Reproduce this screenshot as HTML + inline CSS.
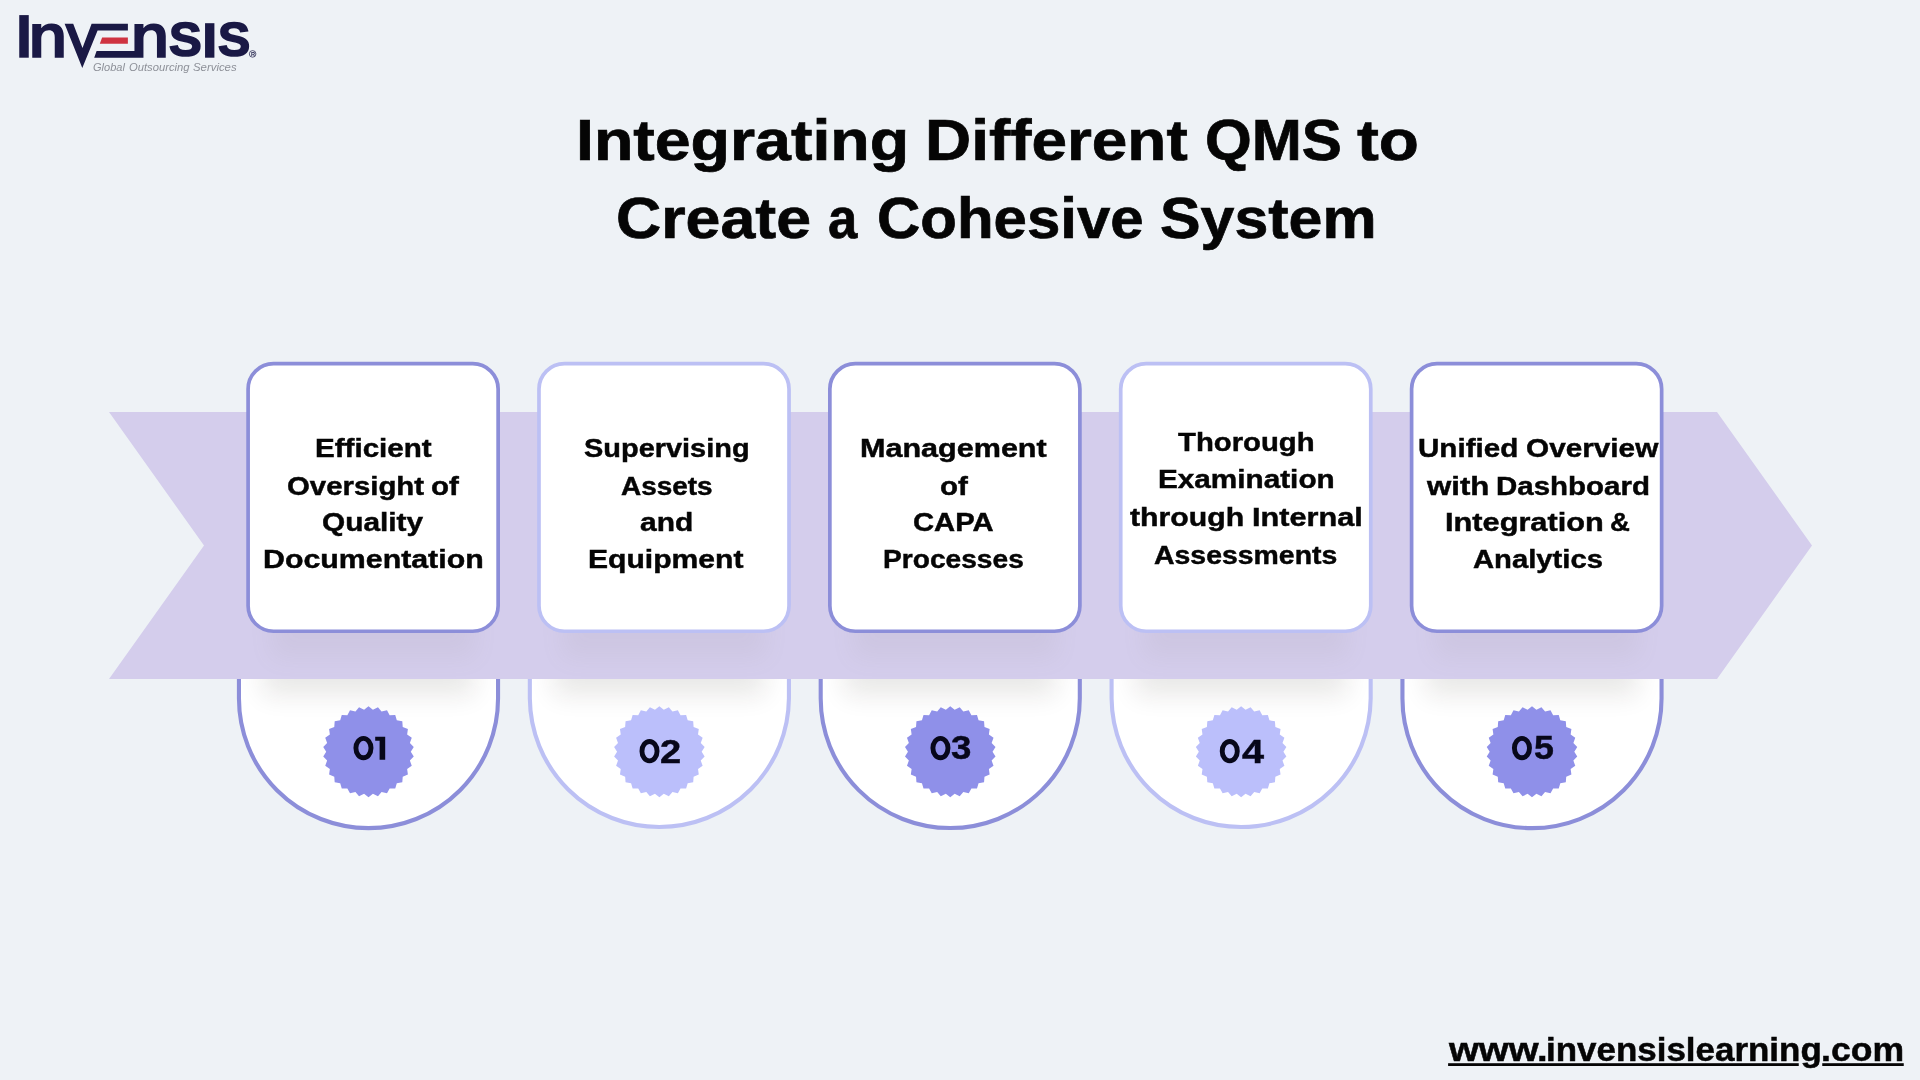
<!DOCTYPE html>
<html><head><meta charset="utf-8"><title>Integrating Different QMS</title>
<style>
html,body{margin:0;padding:0}
body{width:1920px;height:1080px;background:#eef2f6;position:relative;overflow:hidden;font-family:"Liberation Sans",sans-serif}
.abs{position:absolute}
#txt{position:absolute;left:0;top:0;width:1920px;height:1080px;will-change:transform}.t{position:absolute;white-space:nowrap;line-height:1;font-weight:bold;color:#050505;transform-origin:0 0;font-family:"Liberation Sans",sans-serif}
</style></head><body>
<svg class="abs" style="left:0;top:0" width="300" height="90" viewBox="0 0 300 90">
<g fill="#1a1945">
<rect x="19.25" y="15.1" width="9.5" height="42.6"/>
<path id="n1" d="M32.25,57.7 V23.9 H41.25 V28.3 C43.2,25.3 46.8,23.5 51.6,23.5 C59.4,23.5 63.75,28 63.75,36 V57.7 H54.75 V37.2 C54.75,32.6 52.8,30.25 48.9,30.25 C44.4,30.25 41.25,33.6 41.25,39 V57.7 Z"/>
<polygon points="64.6,23.7 73.2,23.7 82.5,48 91.6,23.7 127.9,23.7 127.9,30.5 97.6,30.5 82.3,68.1"/>
<path d="M94.2,57.7 L96.6,51.1 H134.45 V23.9 H143.45 V28.3 C145.4,25.3 149,23.5 153.8,23.5 C161.6,23.5 165.75,28 165.75,36 V57.7 H156.95 V37.2 C156.95,32.6 155,30.25 151.1,30.25 C146.6,30.25 143.45,33.6 143.45,39 V57.7 Z"/>
<rect x="205.05" y="23.2" width="9.35" height="34.5"/>
</g>
<polygon points="102.1,37.4 127.9,37.4 127.9,43.8 99.8,43.8" fill="#cf3341"/>
<circle cx="252.6" cy="53.9" r="3.3" fill="none" stroke="#1a1945" stroke-width="0.7"/>
</svg>

<svg class="abs" style="left:0;top:0" width="1920" height="1080"><defs><filter id="b1" x="-30%" y="-100%" width="160%" height="300%"><feGaussianBlur stdDeviation="12.6"/></filter><filter id="b2" x="-30%" y="-100%" width="160%" height="300%"><feGaussianBlur stdDeviation="12"/></filter><clipPath id="sc0"><path d="M238.95,600 V698.6 A129.55,129.55 0 0 0 498.05,698.6 V600 Z"/></clipPath><clipPath id="sc1"><path d="M529.83,600 V698.6 A129.55,129.55 0 0 0 788.92,698.6 V600 Z"/></clipPath><clipPath id="sc2"><path d="M820.70,600 V698.6 A129.55,129.55 0 0 0 1079.80,698.6 V600 Z"/></clipPath><clipPath id="sc3"><path d="M1111.58,600 V698.6 A129.55,129.55 0 0 0 1370.67,698.6 V600 Z"/></clipPath><clipPath id="sc4"><path d="M1402.45,600 V698.6 A129.55,129.55 0 0 0 1661.55,698.6 V600 Z"/></clipPath></defs><path d="M238.95,600 V698.6 A129.55,129.55 0 0 0 498.05,698.6 V600" fill="#fff" stroke="none"/><g clip-path="url(#sc0)"><rect x="263.00" y="630" width="211" height="65" fill="#2a2618" opacity="0.10" filter="url(#b1)"/></g><path d="M238.95,600 V698.6 A129.55,129.55 0 0 0 498.05,698.6 V600" fill="none" stroke="#8c8ed9" stroke-width="4.1"/><path d="M529.83,600 V698.6 A129.55,129.55 0 0 0 788.92,698.6 V600" fill="#fff" stroke="none"/><g clip-path="url(#sc1)"><rect x="553.88" y="630" width="211" height="65" fill="#2a2618" opacity="0.10" filter="url(#b1)"/></g><path d="M529.83,600 V698.6 A129.55,129.55 0 0 0 788.92,698.6 V600" fill="none" stroke="#bcc0f4" stroke-width="4.1"/><path d="M820.70,600 V698.6 A129.55,129.55 0 0 0 1079.80,698.6 V600" fill="#fff" stroke="none"/><g clip-path="url(#sc2)"><rect x="844.75" y="630" width="211" height="65" fill="#2a2618" opacity="0.10" filter="url(#b1)"/></g><path d="M820.70,600 V698.6 A129.55,129.55 0 0 0 1079.80,698.6 V600" fill="none" stroke="#8c8ed9" stroke-width="4.1"/><path d="M1111.58,600 V698.6 A129.55,129.55 0 0 0 1370.67,698.6 V600" fill="#fff" stroke="none"/><g clip-path="url(#sc3)"><rect x="1135.62" y="630" width="211" height="65" fill="#2a2618" opacity="0.10" filter="url(#b1)"/></g><path d="M1111.58,600 V698.6 A129.55,129.55 0 0 0 1370.67,698.6 V600" fill="none" stroke="#bcc0f4" stroke-width="4.1"/><path d="M1402.45,600 V698.6 A129.55,129.55 0 0 0 1661.55,698.6 V600" fill="#fff" stroke="none"/><g clip-path="url(#sc4)"><rect x="1426.50" y="630" width="211" height="65" fill="#2a2618" opacity="0.10" filter="url(#b1)"/></g><path d="M1402.45,600 V698.6 A129.55,129.55 0 0 0 1661.55,698.6 V600" fill="none" stroke="#8c8ed9" stroke-width="4.1"/><polygon points="109,412 1717,412 1812,545.5 1717,679 109,679 204,545.5" fill="#d4cdec"/><rect x="271.25" y="590" width="204" height="68" fill="#787064" opacity="0.07" filter="url(#b2)"/><rect x="562.12" y="590" width="204" height="68" fill="#787064" opacity="0.07" filter="url(#b2)"/><rect x="853.00" y="590" width="204" height="68" fill="#787064" opacity="0.07" filter="url(#b2)"/><rect x="1143.88" y="590" width="204" height="68" fill="#787064" opacity="0.07" filter="url(#b2)"/><rect x="1434.75" y="590" width="204" height="68" fill="#787064" opacity="0.07" filter="url(#b2)"/></svg>
<svg class="abs" style="left:0;top:0" width="1920" height="1080"><rect x="248.10" y="363.65" width="250.05" height="267.60" rx="25.45" fill="#fff" stroke="#8c8ed9" stroke-width="3.7"/><rect x="538.98" y="363.65" width="250.05" height="267.60" rx="25.45" fill="#fff" stroke="#bcc0f4" stroke-width="3.7"/><rect x="829.85" y="363.65" width="250.05" height="267.60" rx="25.45" fill="#fff" stroke="#8c8ed9" stroke-width="3.7"/><rect x="1120.72" y="363.65" width="250.05" height="267.60" rx="25.45" fill="#fff" stroke="#bcc0f4" stroke-width="3.7"/><rect x="1411.60" y="363.65" width="250.05" height="267.60" rx="25.45" fill="#fff" stroke="#8c8ed9" stroke-width="3.7"/></svg>
<svg class="abs" style="left:0;top:0" width="1920" height="1080"><polygon points="368.50,706.30 364.08,709.73 359.04,707.29 355.43,711.57 349.99,710.23 347.35,715.17 341.76,714.99 340.20,720.36 334.69,721.35 334.28,726.94 329.10,729.05 329.86,734.60 325.23,737.74 327.12,743.01 323.25,747.04 326.20,751.80 323.25,756.56 327.12,760.59 325.23,765.86 329.86,769.00 329.10,774.55 334.28,776.66 334.69,782.25 340.20,783.24 341.76,788.61 347.35,788.43 349.99,793.37 355.43,792.03 359.04,796.31 364.08,793.87 368.50,797.30 372.92,793.87 377.96,796.31 381.57,792.03 387.01,793.37 389.65,788.43 395.24,788.61 396.80,783.24 402.31,782.25 402.72,776.66 407.90,774.55 407.14,769.00 411.77,765.86 409.88,760.59 413.75,756.56 410.80,751.80 413.75,747.04 409.88,743.01 411.77,737.74 407.14,734.60 407.90,729.05 402.72,726.94 402.31,721.35 396.80,720.36 395.24,714.99 389.65,715.17 387.01,710.23 381.57,711.57 377.96,707.29 372.92,709.73" fill="#8f90e9"/><polygon points="659.38,706.30 654.95,709.73 649.92,707.29 646.30,711.57 640.87,710.23 638.23,715.17 632.63,714.99 631.07,720.36 625.56,721.35 625.15,726.94 619.97,729.05 620.73,734.60 616.10,737.74 618.00,743.01 614.12,747.04 617.08,751.80 614.12,756.56 618.00,760.59 616.10,765.86 620.73,769.00 619.97,774.55 625.15,776.66 625.56,782.25 631.07,783.24 632.63,788.61 638.23,788.43 640.87,793.37 646.30,792.03 649.92,796.31 654.95,793.87 659.38,797.30 663.80,793.87 668.83,796.31 672.45,792.03 677.88,793.37 680.52,788.43 686.12,788.61 687.68,783.24 693.19,782.25 693.60,776.66 698.78,774.55 698.02,769.00 702.65,765.86 700.75,760.59 704.63,756.56 701.67,751.80 704.63,747.04 700.75,743.01 702.65,737.74 698.02,734.60 698.78,729.05 693.60,726.94 693.19,721.35 687.68,720.36 686.12,714.99 680.52,715.17 677.88,710.23 672.45,711.57 668.83,707.29 663.80,709.73" fill="#bbbffb"/><polygon points="950.25,706.30 945.83,709.73 940.79,707.29 937.18,711.57 931.74,710.23 929.10,715.17 923.51,714.99 921.95,720.36 916.44,721.35 916.03,726.94 910.85,729.05 911.61,734.60 906.98,737.74 908.87,743.01 905.00,747.04 907.95,751.80 905.00,756.56 908.87,760.59 906.98,765.86 911.61,769.00 910.85,774.55 916.03,776.66 916.44,782.25 921.95,783.24 923.51,788.61 929.10,788.43 931.74,793.37 937.18,792.03 940.79,796.31 945.83,793.87 950.25,797.30 954.67,793.87 959.71,796.31 963.32,792.03 968.76,793.37 971.40,788.43 976.99,788.61 978.55,783.24 984.06,782.25 984.47,776.66 989.65,774.55 988.89,769.00 993.52,765.86 991.63,760.59 995.50,756.56 992.55,751.80 995.50,747.04 991.63,743.01 993.52,737.74 988.89,734.60 989.65,729.05 984.47,726.94 984.06,721.35 978.55,720.36 976.99,714.99 971.40,715.17 968.76,710.23 963.32,711.57 959.71,707.29 954.67,709.73" fill="#8f90e9"/><polygon points="1241.12,706.30 1236.70,709.73 1231.67,707.29 1228.05,711.57 1222.62,710.23 1219.97,715.17 1214.38,714.99 1212.82,720.36 1207.31,721.35 1206.90,726.94 1201.72,729.05 1202.48,734.60 1197.85,737.74 1199.75,743.01 1195.87,747.04 1198.83,751.80 1195.87,756.56 1199.75,760.59 1197.85,765.86 1202.48,769.00 1201.72,774.55 1206.90,776.66 1207.31,782.25 1212.82,783.24 1214.38,788.61 1219.97,788.43 1222.62,793.37 1228.05,792.03 1231.67,796.31 1236.70,793.87 1241.12,797.30 1245.55,793.87 1250.58,796.31 1254.20,792.03 1259.63,793.37 1262.27,788.43 1267.87,788.61 1269.43,783.24 1274.94,782.25 1275.35,776.66 1280.53,774.55 1279.77,769.00 1284.40,765.86 1282.50,760.59 1286.38,756.56 1283.42,751.80 1286.38,747.04 1282.50,743.01 1284.40,737.74 1279.77,734.60 1280.53,729.05 1275.35,726.94 1274.94,721.35 1269.43,720.36 1267.87,714.99 1262.28,715.17 1259.63,710.23 1254.20,711.57 1250.58,707.29 1245.55,709.73" fill="#bbbffb"/><polygon points="1532.00,706.30 1527.58,709.73 1522.54,707.29 1518.93,711.57 1513.49,710.23 1510.85,715.17 1505.26,714.99 1503.70,720.36 1498.19,721.35 1497.78,726.94 1492.60,729.05 1493.36,734.60 1488.73,737.74 1490.62,743.01 1486.75,747.04 1489.70,751.80 1486.75,756.56 1490.62,760.59 1488.73,765.86 1493.36,769.00 1492.60,774.55 1497.78,776.66 1498.19,782.25 1503.70,783.24 1505.26,788.61 1510.85,788.43 1513.49,793.37 1518.93,792.03 1522.54,796.31 1527.58,793.87 1532.00,797.30 1536.42,793.87 1541.46,796.31 1545.07,792.03 1550.51,793.37 1553.15,788.43 1558.74,788.61 1560.30,783.24 1565.81,782.25 1566.22,776.66 1571.40,774.55 1570.64,769.00 1575.27,765.86 1573.38,760.59 1577.25,756.56 1574.30,751.80 1577.25,747.04 1573.38,743.01 1575.27,737.74 1570.64,734.60 1571.40,729.05 1566.22,726.94 1565.81,721.35 1560.30,720.36 1558.74,714.99 1553.15,715.17 1550.51,710.23 1545.07,711.57 1541.46,707.29 1536.42,709.73" fill="#8f90e9"/><ellipse cx="363.45" cy="748.1" rx="7.55" ry="9.7" fill="none" stroke="#07071a" stroke-width="4.9"/><ellipse cx="649.5" cy="751.2" rx="7.55" ry="9.7" fill="none" stroke="#07071a" stroke-width="4.9"/><ellipse cx="940.45" cy="748.1" rx="7.55" ry="9.7" fill="none" stroke="#07071a" stroke-width="4.9"/><ellipse cx="1229.75" cy="751.2" rx="7.55" ry="9.7" fill="none" stroke="#07071a" stroke-width="4.9"/><ellipse cx="1521.95" cy="748.1" rx="7.55" ry="9.7" fill="none" stroke="#07071a" stroke-width="4.9"/><polygon points="375.2,736.7 385.2,736.7 385.2,759.85 379.6,759.85 379.6,740.7 375.2,740.7" fill="#07071a"/></svg>
<div id="txt">
<div class="t" style="left:576.11px;top:113.35px;font-size:56.6px;transform:scaleX(1.1392);-webkit-text-stroke:0.7px #050505;">Integrating</div>
<div class="t" style="left:925.07px;top:113.35px;font-size:56.6px;transform:scaleX(1.1289);-webkit-text-stroke:0.7px #050505;">Different</div>
<div class="t" style="left:1204.86px;top:113.39px;font-size:56.6px;transform:scaleX(1.0624);-webkit-text-stroke:0.7px #050505;">QMS</div>
<div class="t" style="left:1356.95px;top:113.36px;font-size:56.6px;transform:scaleX(1.1597);-webkit-text-stroke:0.7px #050505;">to</div>
<div class="t" style="left:615.73px;top:191.36px;font-size:56.6px;transform:scaleX(1.1067);-webkit-text-stroke:0.7px #050505;">Create</div>
<div class="t" style="left:827.59px;top:191.39px;font-size:56.6px;transform:scaleX(0.9310);-webkit-text-stroke:0.7px #050505;">a</div>
<div class="t" style="left:877.06px;top:191.39px;font-size:56.6px;transform:scaleX(1.0596);-webkit-text-stroke:0.7px #050505;">Cohesive</div>
<div class="t" style="left:1160.38px;top:191.37px;font-size:56.6px;transform:scaleX(1.0753);-webkit-text-stroke:0.7px #050505;">System</div>
<div class="t" style="left:314.54px;top:435.77px;font-size:25.7px;transform:scaleX(1.1519);-webkit-text-stroke:0.45px #050505;">Efficient</div>
<div class="t" style="left:286.71px;top:473.57px;font-size:25.7px;transform:scaleX(1.1431);-webkit-text-stroke:0.45px #050505;">Oversight</div>
<div class="t" style="left:431.13px;top:473.57px;font-size:25.7px;transform:scaleX(1.1484);-webkit-text-stroke:0.45px #050505;">of</div>
<div class="t" style="left:322.48px;top:510.17px;font-size:25.7px;transform:scaleX(1.1609);-webkit-text-stroke:0.45px #050505;">Quality</div>
<div class="t" style="left:262.76px;top:546.96px;font-size:25.7px;transform:scaleX(1.1805);-webkit-text-stroke:0.45px #050505;">Documentation</div>
<div class="t" style="left:583.84px;top:435.77px;font-size:25.7px;transform:scaleX(1.1263);-webkit-text-stroke:0.45px #050505;">Supervising</div>
<div class="t" style="left:620.81px;top:473.57px;font-size:25.7px;transform:scaleX(1.0879);-webkit-text-stroke:0.45px #050505;">Assets</div>
<div class="t" style="left:639.73px;top:510.17px;font-size:25.7px;transform:scaleX(1.1653);-webkit-text-stroke:0.45px #050505;">and</div>
<div class="t" style="left:588.21px;top:546.96px;font-size:25.7px;transform:scaleX(1.1709);-webkit-text-stroke:0.45px #050505;">Equipment</div>
<div class="t" style="left:859.72px;top:435.76px;font-size:25.7px;transform:scaleX(1.1891);-webkit-text-stroke:0.45px #050505;">Management</div>
<div class="t" style="left:939.53px;top:473.57px;font-size:25.7px;transform:scaleX(1.1484);-webkit-text-stroke:0.45px #050505;">of</div>
<div class="t" style="left:913.32px;top:510.17px;font-size:25.7px;transform:scaleX(1.1371);-webkit-text-stroke:0.45px #050505;">CAPA</div>
<div class="t" style="left:882.87px;top:546.97px;font-size:25.7px;transform:scaleX(1.0952);-webkit-text-stroke:0.45px #050505;">Processes</div>
<div class="t" style="left:1177.59px;top:430.37px;font-size:25.7px;transform:scaleX(1.1393);-webkit-text-stroke:0.45px #050505;">Thorough</div>
<div class="t" style="left:1158.09px;top:467.37px;font-size:25.7px;transform:scaleX(1.1568);-webkit-text-stroke:0.45px #050505;">Examination</div>
<div class="t" style="left:1129.75px;top:505.16px;font-size:25.7px;transform:scaleX(1.1771);-webkit-text-stroke:0.45px #050505;">through</div>
<div class="t" style="left:1251.90px;top:505.16px;font-size:25.7px;transform:scaleX(1.1933);-webkit-text-stroke:0.45px #050505;">Internal</div>
<div class="t" style="left:1154.36px;top:542.57px;font-size:25.7px;transform:scaleX(1.1066);-webkit-text-stroke:0.45px #050505;">Assessments</div>
<div class="t" style="left:1417.53px;top:435.77px;font-size:25.7px;transform:scaleX(1.1510);-webkit-text-stroke:0.45px #050505;">Unified</div>
<div class="t" style="left:1525.52px;top:435.77px;font-size:25.7px;transform:scaleX(1.1582);-webkit-text-stroke:0.45px #050505;">Overview</div>
<div class="t" style="left:1426.80px;top:473.55px;font-size:25.7px;transform:scaleX(1.2143);-webkit-text-stroke:0.45px #050505;">with</div>
<div class="t" style="left:1495.79px;top:473.57px;font-size:25.7px;transform:scaleX(1.1475);-webkit-text-stroke:0.45px #050505;">Dashboard</div>
<div class="t" style="left:1444.67px;top:510.15px;font-size:25.7px;transform:scaleX(1.1963);-webkit-text-stroke:0.45px #050505;">Integration</div>
<div class="t" style="left:1610.23px;top:510.17px;font-size:25.7px;transform:scaleX(1.0725);-webkit-text-stroke:0.45px #050505;">&amp;</div>
<div class="t" style="left:1472.89px;top:546.97px;font-size:25.7px;transform:scaleX(1.1377);-webkit-text-stroke:0.45px #050505;">Analytics</div>
<div class="t" style="left:660.09px;top:734.16px;font-size:34px;transform:scaleX(1.1179);color:#07071a;-webkit-text-stroke:0.45px #07071a;">2</div>
<div class="t" style="left:951.09px;top:730.34px;font-size:34px;transform:scaleX(1.0768);color:#07071a;-webkit-text-stroke:0.45px #07071a;">3</div>
<div class="t" style="left:1241.63px;top:734.18px;font-size:34px;transform:scaleX(1.1650);color:#07071a;-webkit-text-stroke:0.45px #07071a;">4</div>
<div class="t" style="left:1533.77px;top:730.33px;font-size:34px;transform:scaleX(1.0530);color:#07071a;-webkit-text-stroke:0.45px #07071a;">5</div>
<div class="t" style="left:1448.51px;top:1032.89px;font-size:33px;transform:scaleX(1.1626);-webkit-text-stroke:0.5px #050505;">www.</div>
<div class="t" style="left:1546.34px;top:1032.84px;font-size:33px;transform:scaleX(1.0588);-webkit-text-stroke:0.5px #050505;">invensislearning</div>
<div class="t" style="left:1821.34px;top:1032.85px;font-size:33px;transform:scaleX(1.0780);-webkit-text-stroke:0.5px #050505;">.com</div>
<div class="t" style="left:169.05px;top:16.31px;font-size:47.6px;transform:scaleX(1.0317);color:#1a1945;-webkit-text-stroke:1.6px #1a1945;">S</div>
<div class="t" style="left:217.89px;top:16.31px;font-size:47.6px;transform:scaleX(1.0150);color:#1a1945;-webkit-text-stroke:1.6px #1a1945;">S</div>
<div class="t" style="left:250.71px;top:51.60px;font-size:5.2px;transform:scaleX(1.0741);color:#1a1945;-webkit-text-stroke:0px #1a1945;">R</div>
<div class="t" style="left:92.90px;top:62.49px;font-size:11px;transform:scaleX(1.0021);font-weight:normal;font-style:italic;color:#8d9098;-webkit-text-stroke:0px #8d9098;">Global</div>
<div class="t" style="left:128.70px;top:62.49px;font-size:11px;transform:scaleX(1.0213);font-weight:normal;font-style:italic;color:#8d9098;-webkit-text-stroke:0px #8d9098;">Outsourcing</div>
<div class="t" style="left:192.72px;top:62.49px;font-size:11px;transform:scaleX(1.0347);font-weight:normal;font-style:italic;color:#8d9098;-webkit-text-stroke:0px #8d9098;">Services</div>
</div>
<svg class="abs" style="left:0;top:0" width="1920" height="1080"><rect x="1448.1" y="1063.2" width="350.65" height="2.8" fill="#050505"/><rect x="1822.25" y="1063.2" width="81.5" height="2.8" fill="#050505"/></svg>
</body></html>
